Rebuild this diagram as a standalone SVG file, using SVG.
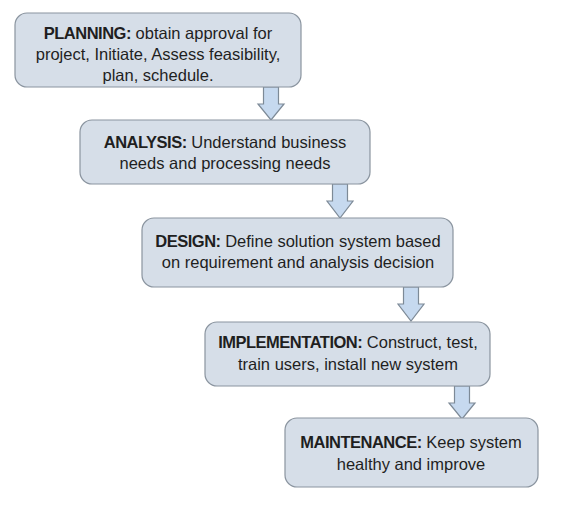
<svg xmlns="http://www.w3.org/2000/svg" width="570" height="505" viewBox="0 0 570 505">
<style>
.box{fill:#d6dee8;stroke:#8a949f;stroke-width:1.2}
.arr{fill:#c6d9ef;stroke:#7d8a97;stroke-width:1.2;stroke-linejoin:miter}
.t{font-family:"Liberation Sans",Arial,sans-serif;font-size:16.5px;fill:#1f1f1f;text-anchor:middle}
.b{font-weight:bold;letter-spacing:-0.5px}
</style>
<rect width="570" height="505" fill="#ffffff"/>
<g id="connectors">
<path class="arr" d="M263.5,87 H278.5 V104 H284 L271,120 L258,104 H263.5 Z"/>
<path class="arr" d="M332.5,184 H347.5 V201 H353 L340,218 L327,201 H332.5 Z"/>
<path class="arr" d="M403.5,287 H418.5 V304 H424 L411,321 L398,304 H403.5 Z"/>
<path class="arr" d="M454.5,386 H469.5 V403 H475 L462,419 L449,403 H454.5 Z"/>
</g>
<g id="planning">
<rect class="box" x="15" y="13" width="286" height="74" rx="12"/>
<text class="t" x="158" y="39"><tspan class="b">PLANNING:</tspan> obtain approval for</text>
<text class="t" x="158" y="60">project, Initiate, Assess feasibility,</text>
<text class="t" x="158" y="81">plan, schedule.</text>
</g>
<g id="analysis">
<rect class="box" x="80" y="120" width="290" height="64" rx="12"/>
<text class="t" x="225" y="148"><tspan class="b">ANALYSIS:</tspan> Understand business</text>
<text class="t" x="225" y="169">needs and processing needs</text>
</g>
<g id="design">
<rect class="box" x="142" y="218" width="311" height="69" rx="12"/>
<text class="t" x="298" y="247"><tspan class="b">DESIGN:</tspan> Define solution system based</text>
<text class="t" x="298" y="268">on requirement and analysis decision</text>
</g>
<g id="implementation">
<rect class="box" x="205" y="322" width="285" height="64" rx="12"/>
<text class="t" x="348" y="348"><tspan class="b">IMPLEMENTATION:</tspan> Construct, test,</text>
<text class="t" x="348" y="370">train users, install new system</text>
</g>
<g id="maintenance">
<rect class="box" x="285" y="418" width="253" height="69" rx="12"/>
<text class="t" x="411" y="448"><tspan class="b">MAINTENANCE:</tspan> Keep system</text>
<text class="t" x="411" y="470">healthy and improve</text>
</g>
</svg>
